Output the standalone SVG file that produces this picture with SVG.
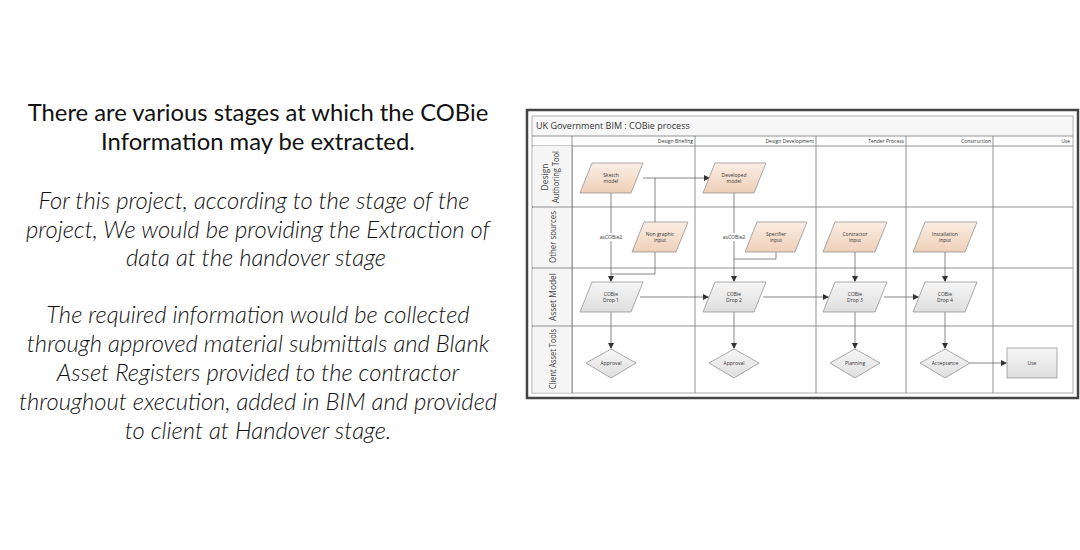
<svg xmlns="http://www.w3.org/2000/svg" width="1080" height="550" viewBox="0 0 1080 550">
<defs>
<linearGradient id="og" x1="0" y1="1" x2="0" y2="0"><stop offset="0" stop-color="#eecfb8"/><stop offset="1" stop-color="#fbeee4"/></linearGradient>
<linearGradient id="gg" x1="0" y1="1" x2="0" y2="0"><stop offset="0" stop-color="#dedede"/><stop offset="1" stop-color="#f6f6f6"/></linearGradient>
<marker id="ah" markerWidth="6" markerHeight="6" refX="5" refY="3" orient="auto" markerUnits="userSpaceOnUse"><path d="M0,0 L6,3 L0,6 z" fill="#333"/></marker>
<style>
.t{font-family:Lato,"Open Sans",sans-serif;fill:#111;text-anchor:middle}
.h{font-size:23.8px;font-weight:400}
.i{font-size:23.8px;font-style:italic;font-weight:300}
.s{font-family:"Open Sans","Liberation Sans",sans-serif;fill:#333}
.n{font-size:5px;text-anchor:middle}
.hd{font-size:5px;text-anchor:end}
.ln{font-size:8.5px;text-anchor:middle;fill:#444}
.grid{stroke:#777;stroke-width:0.8;fill:none}
.o{fill:url(#og);stroke:#888;stroke-width:0.7}
.g{fill:url(#gg);stroke:#888;stroke-width:0.7}
.c{stroke:#555;stroke-width:0.7;fill:none}
.a{marker-end:url(#ah)}
</style>
</defs>
<rect width="1080" height="550" fill="#fff"/>
<g id="text">
<text class="t h" x="258" y="121">There are various stages at which the COBie</text>
<text class="t h" x="258" y="150">Information may be extracted.</text>
<text class="t i" x="254" y="209">For this project, according to the stage of the</text>
<text class="t i" x="258" y="238">project, We would be providing the Extraction of</text>
<text class="t i" x="256" y="266">data at the handover stage</text>
<text class="t i" x="258" y="323">The required information would be collected</text>
<text class="t i" x="258" y="352">through approved material submittals and Blank</text>
<text class="t i" x="258" y="381">Asset Registers provided to the contractor</text>
<text class="t i" x="258" y="410">throughout execution, added in BIM and provided</text>
<text class="t i" x="258" y="439">to client at Handover stage.</text>
</g>
<g id="frame">
<rect x="527" y="110" width="551" height="288" fill="#fff" stroke="#444" stroke-width="2.5"/>
<rect x="532" y="116" width="541" height="277" fill="#fff" stroke="#999" stroke-width="0.8"/>
<rect x="533" y="117" width="539" height="19" fill="#f7f7f7"/>
<text class="s" x="536" y="129" font-size="9">UK Government BIM :  COBie process</text>
<path class="grid" d="M532,136H1073M532,146H1073M532,207H1073M532,268H1073M532,326H1073M572,136V393M695,136V393M816,136V393M906,136V393M993,136V393"/>
<rect x="533" y="146" width="39" height="246.5" fill="#f5f5f5" stroke="none"/>
<path class="grid" d="M532,207H572M532,268H572M532,326H572M572,146V393"/>
<text class="s hd" x="693" y="143">Design Briefing</text>
<text class="s hd" x="814" y="143">Design Development</text>
<text class="s hd" x="904" y="143">Tender Process</text>
<text class="s hd" x="991" y="143">Construction</text>
<text class="s hd" x="1070" y="143">Use</text>
<text class="s ln" transform="translate(548,177) rotate(-90)">Design</text>
<text class="s ln" transform="translate(559,177) rotate(-90)" textLength="52" lengthAdjust="spacingAndGlyphs">Authoring  Tool</text>
<text class="s ln" transform="translate(556,237) rotate(-90)" textLength="52" lengthAdjust="spacingAndGlyphs">Other sources</text>
<text class="s ln" transform="translate(556,297) rotate(-90)" textLength="48" lengthAdjust="spacingAndGlyphs">Asset Model</text>
<text class="s ln" transform="translate(556,359) rotate(-90)" textLength="60" lengthAdjust="spacingAndGlyphs">Client Asset Tools</text>
</g>
<g id="connectors">
<path class="c" d="M611,193V274"/>
<path class="c a" d="M643,178H709"/>
<path class="c" d="M655,178V222M655,252V274H611"/>
<path class="c a" d="M611,274V281"/>
<path class="c a" d="M734,193V281"/>
<path class="c" d="M776,252V259H734"/>
<path class="c a" d="M640,297H708"/>
<path class="c a" d="M763,297H828"/>
<path class="c a" d="M884,297H918"/>
<path class="c a" d="M855,252V281"/>
<path class="c a" d="M945,252V281"/>
<path class="c a" d="M611,312V348"/>
<path class="c a" d="M734,312V348"/>
<path class="c a" d="M855,312V348"/>
<path class="c a" d="M945,312V348"/>
<path class="c a" d="M970,363H1006"/>
<rect x="599" y="233" width="24" height="8" fill="#fff"/>
<text class="s n" x="611" y="239">asCOBie2</text>
<rect x="722" y="233" width="24" height="8" fill="#fff"/>
<text class="s n" x="734" y="239">asCOBie2</text>
</g>
<g id="sketch"><polygon class="o" points="592,163 643,163 631,193 580,193"/><text class="s n" x="611" y="177">Sketch</text><text class="s n" x="611" y="183">model</text></g>
<g id="developed"><polygon class="o" points="715,163 766,163 754,193 703,193"/><text class="s n" x="734" y="177">Developed</text><text class="s n" x="734" y="183">model</text></g>
<g id="nongraphic"><polygon class="o" points="644,222 688,222 676,252 632,252"/><text class="s n" x="660" y="236">Non graphic</text><text class="s n" x="660" y="242">input</text></g>
<g id="specifier"><polygon class="o" points="757,222 807,222 795,252 745,252"/><text class="s n" x="776" y="236">Specifier</text><text class="s n" x="776" y="242">input</text></g>
<g id="contractor"><polygon class="o" points="835,222 887,222 875,252 823,252"/><text class="s n" x="855" y="236">Contractor</text><text class="s n" x="855" y="242">input</text></g>
<g id="installation"><polygon class="o" points="925,222 977,222 965,252 913,252"/><text class="s n" x="945" y="236">Installation</text><text class="s n" x="945" y="242">input</text></g>
<g id="drop1"><polygon class="g" points="592,282 643,282 631,312 580,312"/><text class="s n" x="611" y="296">COBie</text><text class="s n" x="611" y="302">Drop 1</text></g>
<g id="drop2"><polygon class="g" points="715,282 766,282 754,312 703,312"/><text class="s n" x="734" y="296">COBie</text><text class="s n" x="734" y="302">Drop 2</text></g>
<g id="drop3"><polygon class="g" points="835,282 887,282 875,312 823,312"/><text class="s n" x="855" y="296">COBie</text><text class="s n" x="855" y="302">Drop 3</text></g>
<g id="drop4"><polygon class="g" points="925,282 977,282 965,312 913,312"/><text class="s n" x="945" y="296">COBie</text><text class="s n" x="945" y="302">Drop 4</text></g>
<g id="approval1"><polygon class="g" points="611,349 636,363 611,378 586,363"/><text class="s n" x="611" y="365">Approval</text></g>
<g id="approval2"><polygon class="g" points="734,349 759,363 734,378 709,363"/><text class="s n" x="734" y="365">Approval</text></g>
<g id="planning"><polygon class="g" points="855,349 880,363 855,378 830,363"/><text class="s n" x="855" y="365">Planning</text></g>
<g id="acceptance"><polygon class="g" points="945,349 970,363 945,378 920,363"/><text class="s n" x="945" y="365">Acceptance</text></g>
<g id="use"><rect class="g" x="1007" y="348" width="50" height="30"/><text class="s n" x="1032" y="365">Use</text></g>
</svg>
